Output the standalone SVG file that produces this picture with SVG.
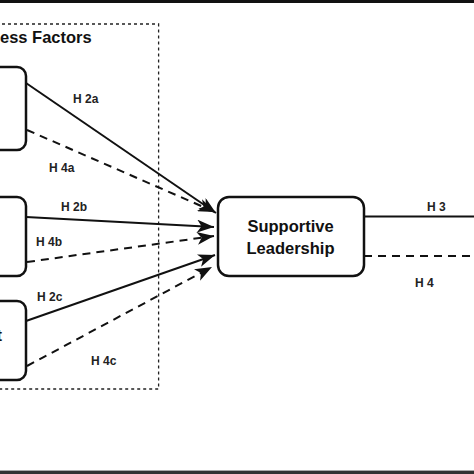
<svg xmlns="http://www.w3.org/2000/svg" width="474" height="474" viewBox="0 0 474 474">
<style>
.node{fill:#fff;stroke:#111;stroke-width:2.5}
.c{stroke:#111;stroke-width:2;fill:none}
.d{stroke-dasharray:8 6}
.lbl{font-family:"Liberation Sans",Arial,sans-serif;font-weight:bold;font-size:12px;fill:#222}
.t{font-family:"Liberation Sans",Arial,sans-serif;font-weight:bold;font-size:16.5px;fill:#111}
</style>
<defs>
<marker id="ar" markerUnits="userSpaceOnUse" markerWidth="18" markerHeight="13" refX="17" refY="6.5" orient="auto" viewBox="0 0 18 13">
<path d="M0,0 L17,6.5 L0,13 L4.5,6.5 Z" fill="#111"/>
</marker>
</defs>
<rect width="474" height="474" fill="#fff"/>
<rect x="0" y="0" width="474" height="3" fill="#111"/>
<rect x="0" y="470" width="474" height="1" fill="#aaa"/>
<rect x="0" y="471" width="474" height="3" fill="#333"/>
<g id="group-box">
<rect x="-10" y="24" width="168.6" height="365" fill="none" stroke="#222" stroke-width="1.3" stroke-dasharray="3 3"/>
<text class="t" x="0" y="43">ess Factors</text>
</g>
<g id="node-1"><rect class="node" x="-60" y="67" width="86" height="83" rx="9"/></g>
<g id="node-2"><rect class="node" x="-60" y="197" width="86" height="79" rx="9"/></g>
<g id="node-3"><rect class="node" x="-60" y="301" width="86" height="79" rx="9"/>
<text class="t" x="2" y="341" text-anchor="end">t</text></g>
<g id="node-supportive"><rect class="node" x="218" y="197" width="146" height="79" rx="11"/>
<text class="t" x="290.5" y="232" text-anchor="middle">Supportive</text>
<text class="t" x="290.5" y="254" text-anchor="middle">Leadership</text></g>
<g id="connectors">
<line class="c" x1="26" y1="83" x2="216" y2="213" marker-end="url(#ar)"/>
<line class="c d" x1="27" y1="130" x2="215" y2="212" marker-end="url(#ar)"/>
<line class="c" x1="26" y1="217" x2="214" y2="227" marker-end="url(#ar)"/>
<line class="c d" x1="27" y1="262" x2="214" y2="236" marker-end="url(#ar)"/>
<line class="c" x1="26" y1="321" x2="215" y2="255" marker-end="url(#ar)"/>
<line class="c d" x1="27" y1="366" x2="212" y2="267" marker-end="url(#ar)"/>
<line class="c" x1="364" y1="216.5" x2="476" y2="216.5"/>
<line class="c d" x1="364" y1="256" x2="476" y2="256"/>
<text class="lbl" x="73" y="103">H 2a</text>
<text class="lbl" x="49" y="172">H 4a</text>
<text class="lbl" x="61" y="211">H 2b</text>
<text class="lbl" x="36" y="246">H 4b</text>
<text class="lbl" x="37" y="301">H 2c</text>
<text class="lbl" x="91" y="365">H 4c</text>
<text class="lbl" x="427" y="211">H 3</text>
<text class="lbl" x="415" y="287">H 4</text>
</g>
</svg>
